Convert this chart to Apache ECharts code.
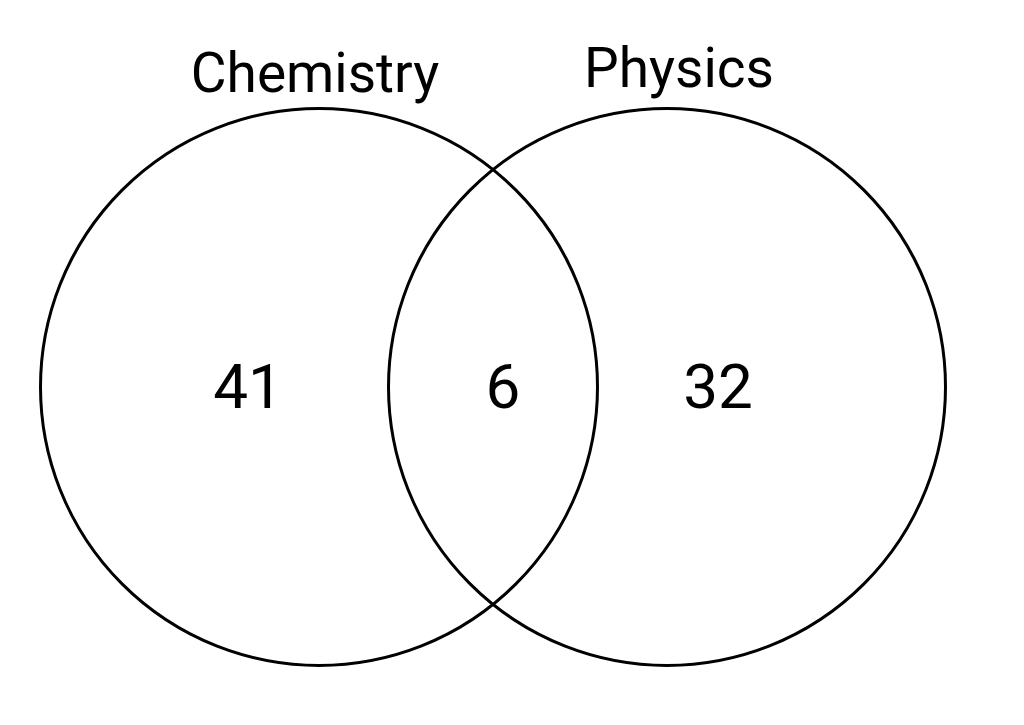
<!DOCTYPE html>
<html>
<head>
<meta charset="utf-8">
<script src="https://cdn.jsdelivr.net/npm/echarts@6/dist/echarts.min.js"></script>
<style>
  html, body { margin: 0; padding: 0; background: #ffffff; }
  #chart { width: 1024px; height: 725px; }
</style>
</head>
<body>
<div id="chart"></div>
<script>
// ---- data ----
const setNames = ['Chemistry', 'Physics'];
const regionNames = ['Chemistry only', 'Chemistry and Physics', 'Physics only'];
const regionCounts = [41, 6, 32];

// ---- layout (pixel-like units on hidden value axes) ----
const layout = {
  width: 1024, height: 725,
  circleCenters: [[319, 387], [667, 387]],
  radius: 278.5,
  setLabelPos: [[315, 78], [679, 73]],
  regionLabelPos: [[248, 392], [503, 392], [718, 392]],
  setFontSize: 55,
  regionFontSize: 62
};

const circleData = setNames.map((n, i) => ({
  name: n,
  value: [layout.circleCenters[i][0], layout.circleCenters[i][1], layout.radius]
}));
const setLabelData = setNames.map((n, i) => ({
  name: n,
  value: [layout.setLabelPos[i][0], layout.setLabelPos[i][1]]
}));
const regionLabelData = regionCounts.map((c, i) => ({
  name: regionNames[i],
  value: [layout.regionLabelPos[i][0], layout.regionLabelPos[i][1], c]
}));

const chart = echarts.init(document.getElementById('chart'), null, { renderer: 'canvas' });
chart.setOption({
  backgroundColor: '#ffffff',
  animation: false,
  grid: { left: 0, right: 0, top: 0, bottom: 0 },
  xAxis: { type: 'value', min: 0, max: layout.width, show: false },
  yAxis: { type: 'value', min: 0, max: layout.height, inverse: true, show: false },
  series: [
    {
      type: 'custom',
      name: 'sets',
      data: circleData,
      renderItem: function (params, api) {
        const c = api.coord([api.value(0), api.value(1)]);
        const r = api.size([api.value(2), 0])[0];
        return {
          type: 'circle',
          shape: { cx: c[0], cy: c[1], r: r },
          style: { fill: 'none', stroke: '#000000', lineWidth: 3 }
        };
      }
    },
    {
      type: 'custom',
      name: 'setLabels',
      data: setLabelData,
      renderItem: function (params, api) {
        const c = api.coord([api.value(0), api.value(1)]);
        return {
          type: 'text',
          x: c[0], y: c[1],
          style: {
            text: setNames[params.dataIndex],
            fontFamily: 'Roboto',
            fontSize: layout.setFontSize,
            fill: '#000000',
            align: 'center',
            verticalAlign: 'middle'
          }
        };
      }
    },
    {
      type: 'custom',
      name: 'regionLabels',
      data: regionLabelData,
      renderItem: function (params, api) {
        const c = api.coord([api.value(0), api.value(1)]);
        return {
          type: 'text',
          x: c[0], y: c[1],
          style: {
            text: String(api.value(2)),
            fontFamily: 'Roboto',
            fontSize: layout.regionFontSize,
            fill: '#000000',
            align: 'center',
            verticalAlign: 'middle'
          }
        };
      }
    }
  ]
});
</script>
</body>
</html>
